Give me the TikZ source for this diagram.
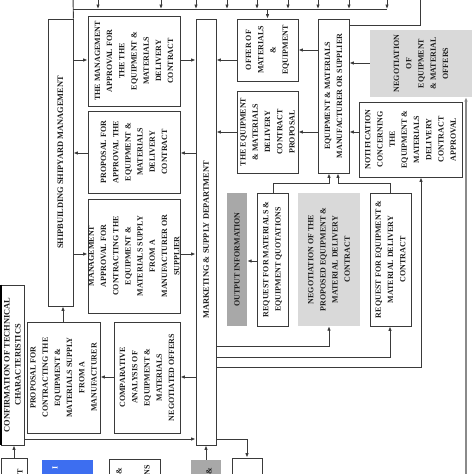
\documentclass[tikz,border=0pt]{standalone}
\usepackage{fontspec}
\setmainfont{Liberation Serif}
\usetikzlibrary{arrows.meta,fit}
\definecolor{linec}{HTML}{3A3A3A}
\definecolor{textc}{HTML}{202020}
\definecolor{lgrey}{HTML}{D9D9D9}
\definecolor{dgrey}{HTML}{A8A8A8}
\definecolor{vblue}{HTML}{3D6EF0}
\definecolor{longc}{HTML}{8A8A8A}
\begin{document}
\begin{tikzpicture}[x=1pt,y=-1pt,
 box/.style={draw=linec,line width=0.9pt,inner sep=0pt,fill=white},
 flat/.style={draw=none,inner sep=0pt},
 txt/.style={font=\bfseries\fontsize{8}{12.2}\selectfont,align=center,inner sep=0pt,text=textc,rotate=90},
 bigtxt/.style={txt,font=\bfseries\fontsize{8.4}{11}\selectfont},
 arr/.style={draw=linec,line width=0.9pt,-{Latex[length=4.5pt,width=3.6pt]}},
 ln/.style={draw=linec,line width=0.9pt}]
\useasboundingbox (0,0) rectangle (474,474);
\clip (0,0) rectangle (474,474);
\fill[white] (0,0) rectangle (474,474);

% boxes
\node[box,fit={(48,19) (73,306)}] (ship) {};
\node[bigtxt] (shipt) at (ship.center) {SHIPBUILDING SHIPYARD MANAGEMENT};

\node[box,fit={(88,16) (180,106)}] (mA) {};
\node[txt] (mAt) at (mA.center) {THE MANAGEMENT\\APPROVAL FOR\\THE THE\\EQUIPMENT \&\\MATERIALS\\DELIVERY\\CONTRACT};

\node[box,fit={(88,111) (180,193)}] (pA) {};
\node[txt] (pAt) at (pA.center) {PROPOSAL FOR\\APPROVAL THE\\EQUIPMENT \&\\MATERIALS\\DELIVERY\\CONTRACT};

\node[box,fit={(88,199) (180,313)}] (mC) {};
\node[txt] (mCt) at (mC.center) {MANAGEMENT\\APPROVAL FOR\\CONTRACTING THE\\EQUIPMENT \&\\MATERIALS SUPPLY\\FROM A\\MANUFACTURER OR\\SUPPLIER};

\node[box,fit={(1,285) (24,445)}] (conf) {};
\draw[line width=2.6pt,draw=black] (conf.north west) -- (conf.south west);
\node[bigtxt] (conft) at (conf.center) {CONFIRMATION OF TECHNICAL\\CHARACTERISTICS};

\node[box,fit={(27,322) (100,433)}] (pC) {};
\node[txt] (pCt) at (pC.center) {PROPOSAL FOR\\CONTRACTING THE\\EQUIPMENT \&\\MATERIALS SUPPLY\\FROM A\\MANUFACTURER};

\node[box,fit={(114,322) (180,433)}] (comp) {};
\node[txt] (compt) at (comp.center) {COMPARATIVE\\ANALYSIS OF\\EQUIPMENT \&\\MATERIALS\\NEGOTIATED OFFERS};

\node[box,fit={(196,19) (216,445)}] (mkt) {};
\node[bigtxt] (mktt) at ([yshift=-8pt]mkt.center) {MARKETING \& SUPPLY DEPARTMENT};

\node[box,fit={(237,19) (298,81)}] (offer) {};
\node[txt] (offert) at (offer.center) {OFFER OF\\MATERIALS\\\&\\EQUIPMENT};

\node[box,fit={(237,91) (298,173)}] (pD) {};
\node[txt] (pDt) at (pD.center) {THE EQUIPMENT\\\& MATERIALS\\DELIVERY\\CONTRACT\\PROPOSAL};

\node[box,fit={(318,19) (349,173)}] (manu) {};
\node[txt] (manut) at (manu.center) {EQUIPMENT \& MATERIALS\\MANUFACTURER OR SUPPLIER};

\node[flat,fill=lgrey,fit={(370,30) (472,97)}] (negO) {};
\node[txt] (negOt) at (negO.center) {NEGOTIATION\\OF\\EQUIPMENT\\\& MATERIAL\\OFFERS};

\node[box,fit={(359,102) (462,177)}] (notif) {};
\node[txt] (notift) at (notif.center) {NOTIFICATION\\CONCERNING\\THE\\EQUIPMENT \&\\MATERIALS\\DELIVERY\\CONTRACT\\APPROVAL};

\node[flat,fill=dgrey,fit={(227,193) (247,326)}] (outp) {};
\node[txt] (outpt) at (outp.center) {OUTPUT INFORMATION};

\node[box,fit={(257,193) (288,326)}] (rQ) {};
\node[txt] (rQt) at (rQ.center) {REQUEST FOR MATERIALS \&\\EQUIPMENT QUOTATIONS};

\node[flat,fill=lgrey,fit={(298,193) (360,326)}] (nC) {};
\node[txt] (nCt) at (nC.center) {NEGOTIATION OF THE\\PROPOSED EQUIPMENT \&\\MATERIAL DELIVERY\\CONTRACT};

\node[box,fit={(370,193) (411,326)}] (rC) {};
\node[txt] (rCt) at (rC.center) {REQUEST FOR EQUIPMENT \&\\MATERIAL DELIVERY\\CONTRACT};

% partial boxes at the bottom edge
\node[box,fit={(1,458) (27,490)}] (b1) {};
\node[txt,anchor=east] (b1t) at (20,469) {T};
\node[flat,fill=vblue,fit={(42,460) (93,490)}] (b2) {};
\node[txt,anchor=east,text=white] (b2t) at (55,466) {I};
\node[box,fit={(109,459) (160,490)}] (b3) {};
\node[txt,anchor=east] (b3t) at (119,468) {\&};
\node[txt,anchor=east] (b3u) at (147,465) {NS};
\node[flat,fill=dgrey,fit={(191,460) (221,490)}] (b4) {};
\node[txt,anchor=east] (b4t) at (209,468) {\&};
\node[box,fit={(232,458) (262,490)}] (b5) {};

% top feed lines
\coordinate (tl) at (73,9);
\coordinate (tr) at (387,9);
\draw[ln] (tl) -- (tr);
\coordinate (shipup) at (73,-2);
\draw[ln] (shipup) -- (ship.north east);
\foreach \xx in {98,161,196,227,257,288,318,349,387} {
  \draw[arr] (\xx,-2) -- (\xx,0 |- tl);
}
\draw[arr] (tl -| offer.north) -- (offer.north);
\coordinate (mr) at (420,-2);
\draw[ln] (mr) |- (manu.east |- 0,25);

% connectors
\draw[arr] (ship.east |- 0,60) -- (mA.west |- 0,60);
\draw[arr] (mA.east |- 0,60) -- (mkt.west |- 0,60);
\draw[arr] (offer.west |- 0,60) -- (mkt.east |- 0,60);
\draw[arr] (manu.west |- 0,50) -- (offer.east |- 0,50);
\draw[arr] (negO.west |- 0,63) -- (manu.east |- 0,63);
\draw[arr] (pA.west |- 0,153) -- (ship.east |- 0,153);
\draw[arr] (mkt.west |- 0,153) -- (pA.east |- 0,153);
\draw[arr] (pD.west |- 0,132) -- (mkt.east |- 0,132);
\draw[arr] (manu.west |- 0,132) -- (pD.east |- 0,132);
\draw[arr] (notif.west |- 0,132) -- (manu.east |- 0,132);
\draw[arr] (ship.east |- 0,254) -- (mC.west |- 0,254);
\draw[arr] (mC.east |- 0,254) -- (mkt.west |- 0,254);
\draw[arr] (comp.west |- 0,377) -- (pC.east |- 0,377);
\draw[arr] (mkt.west |- 0,377) -- (comp.east |- 0,377);
\draw[arr] (pC.north -| 63,0) -- (ship.south -| 63,0);
\draw[arr] (conf.east |- 0,439) -- (mkt.west |- 0,439);
\draw[arr] (b1.north -| 14,0) -- (conf.south -| 14,0);
\draw[arr] (b4.north -| 206,0) -- (mkt.south -| 206,0);
\draw[arr] (mkt.east |- 0,439) -| (b5.north);
\draw[arr] (rQ.west |- 0,261) -- (outp.east |- 0,261);
\draw[arr] (rQ.north -| 273,0) -- (273,183) -| (manu.south -| 329,0);
\draw[arr] (rC.north -| 390,0) -- (390,183) -| (manu.south -| 338,0);
\draw[arr] (mkt.east |- 0,346) -| (nC.south -| 329,0);
\draw[arr] (mkt.east |- 0,357) -| (rC.south -| 390,0);
\draw[arr] (mkt.east |- 0,367) -| (notif.south -| 421,0);
\coordinate (lb) at (466,480);
\draw[arr,draw=longc,line width=1.6pt] (lb) -- (lb |- negO.south);
\end{tikzpicture}
\end{document}
